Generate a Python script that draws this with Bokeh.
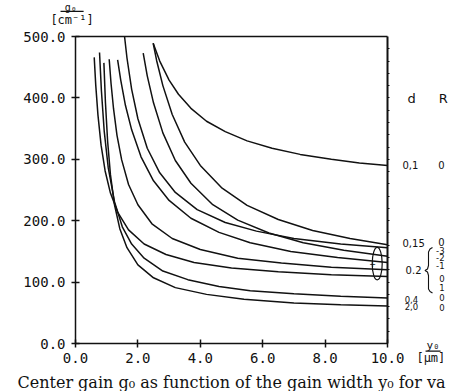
from bokeh.plotting import figure
from bokeh.models import (Range1d, FixedTicker, NumeralTickFormatter, Label, LinearAxis)
from bokeh.embed import file_html
from bokeh.resources import INLINE

# ---- data (y0 in um, g0 in 1/cm) ----
c01_x = [2.49, 2.7, 3.0, 3.3, 3.7, 4.2, 4.8, 5.5, 6.3, 7.2, 8.2, 9.1, 10.0]
c01_y = [489, 460, 429, 406, 383, 362, 345, 330, 318, 308, 300, 294, 290]

c015_x = [2.49, 2.6, 2.8, 3.1, 3.5, 4.0, 4.7, 5.5, 6.5, 7.6, 8.8, 10.0]
c015_y = [489, 461, 420, 373, 328, 290, 253, 225, 202, 184, 171, 161]

c02m3_x = [1.55, 1.65, 1.8, 2.0, 2.3, 2.7, 3.2, 3.9, 4.8, 5.8, 7.0, 8.5, 10.0]
c02m3_y = [510, 465, 414, 366, 318, 278, 246, 218, 197, 183, 171, 162, 156]

c02m2_x = [2.17, 2.3, 2.5, 2.8, 3.2, 3.7, 4.4, 5.2, 6.2, 7.3, 8.6, 10.0]
c02m2_y = [473, 436, 392, 343, 298, 261, 226, 201, 180, 164, 152, 142]

c02m1_x = [1.35, 1.45, 1.6, 1.8, 2.1, 2.5, 3.0, 3.7, 4.6, 5.6, 6.9, 8.4, 10.0]
c02m1_y = [462, 429, 388, 348, 304, 265, 233, 204, 181, 164, 150, 140, 132]

c02r0_x = [1.08, 1.14, 1.22, 1.33, 1.48, 1.7, 2.0, 2.45, 3.1, 4.0, 5.2, 6.6, 8.2, 10.0]
c02r0_y = [463, 423, 382, 339, 299, 259, 226, 195, 171, 153, 139, 131, 124, 120]

c02p1_x = [0.6, 0.65, 0.72, 0.82, 0.95, 1.12, 1.35, 1.7, 2.2, 2.9, 3.8, 5.0, 6.5, 8.2, 10.0]
c02p1_y = [466, 420, 372, 323, 281, 245, 214, 185, 162, 145, 132, 123, 117, 112, 109]

c04_x = [0.77, 0.83, 0.92, 1.05, 1.25, 1.5, 1.8, 2.2, 2.8, 3.6, 4.6, 5.6, 7.0, 8.5, 10.0]
c04_y = [474, 412, 346, 286, 231, 190, 162, 139, 118, 104, 93, 86, 81, 77, 74]

c20_x = [0.91, 0.96, 1.03, 1.12, 1.25, 1.42, 1.65, 2.0, 2.5, 3.2, 4.2, 5.4, 7.0, 8.5, 10.0]
c20_y = [457, 392, 329, 275, 226, 187, 156, 128, 107, 91, 80, 72, 66, 63, 61]

x_ticks = [0, 2, 4, 6, 8, 10]
y_ticks = [0, 100, 200, 300, 400, 500]

# right-hand parameter table: d and R
d_labels = ["0,1", "0,15", "0.2", "0,4", "2,0"]
d_label_y = [290, 164, 119, 72, 61]
r_labels = ["0", "0", "-3", "-2", "-1", "0", "1", "0", "0"]
r_label_y = [290, 165, 151.5, 139.6, 127, 105.4, 91.7, 75.4, 59.1]

INK = "#111111"

# frame covers the whole canvas; axes are pinned at x=0 / y=0 with fixed_location
p = figure(width=474, height=391,
           x_range=Range1d(-75 / 31.2, (474 - 75) / 31.2),
           y_range=Range1d((343 - 391) / 0.614, 343 / 0.614),
           x_axis_location=None, y_axis_location=None,
           min_border=0, min_border_left=0, min_border_right=0,
           min_border_top=0, min_border_bottom=0,
           output_backend="svg", toolbar_location=None)
p.xgrid.visible = False
p.ygrid.visible = False
p.background_fill_color = "white"
p.border_fill_color = "white"
p.outline_line_color = None

def style_axis(ax):
    ax.major_tick_in = 4
    ax.major_tick_out = 4
    ax.minor_tick_line_color = None
    ax.axis_line_width = 1.5
    ax.axis_line_color = INK
    ax.major_tick_line_color = INK
    ax.major_tick_line_width = 1.5
    ax.major_label_text_font = "DejaVu Sans Mono"
    ax.major_label_text_font_size = "14px"
    ax.major_label_text_color = INK

xax = LinearAxis(fixed_location=0, bounds=(0, 10), ticker=FixedTicker(ticks=x_ticks),
                 formatter=NumeralTickFormatter(format="0.0"))
style_axis(xax)
xax.major_label_standoff = 5
p.add_layout(xax, "below")

yax = LinearAxis(fixed_location=0, bounds=(0, 500), ticker=FixedTicker(ticks=y_ticks),
                 formatter=NumeralTickFormatter(format="0.0"))
style_axis(yax)
yax.major_label_standoff = 6
p.add_layout(yax, "left")

# closing frame lines (top and right)
top = LinearAxis(fixed_location=500, bounds=(0, 10), ticker=FixedTicker(ticks=[]))
top.axis_line_color = INK
top.axis_line_width = 1.5
top.major_label_text_color = None
p.add_layout(top, "above")

right = LinearAxis(fixed_location=10, bounds=(0, 500),
                   ticker=FixedTicker(ticks=[], minor_ticks=list(range(20, 500, 20))))
right.axis_line_color = INK
right.axis_line_width = 2
right.minor_tick_line_color = INK
right.minor_tick_in = 0
right.minor_tick_out = 2
right.major_label_text_color = None
p.add_layout(right, "right")

for xs, ys in [(c01_x, c01_y), (c015_x, c015_y), (c02m3_x, c02m3_y), (c02m2_x, c02m2_y),
               (c02m1_x, c02m1_y), (c02r0_x, c02r0_y), (c02p1_x, c02p1_y),
               (c04_x, c04_y), (c20_x, c20_y)]:
    v = [(a, b) for a, b in zip(xs, ys) if b <= 500]
    if len(v) < len(xs):
        # clip the part above the top frame line
        i = len(xs) - len(v)
        x0, y0, x1, y1 = xs[i - 1], ys[i - 1], xs[i], ys[i]
        xc = x0 + (500 - y0) * (x1 - x0) / (y1 - y0)
        v = [(xc, 500)] + v
    p.line([a for a, _ in v], [b for _, b in v], line_color=INK, line_width=1.5)

p.ellipse(x=[9.67], y=[130], width=[0.32], height=[53], fill_color=None,
          line_color=INK, line_width=1.2)

def lab(x, y, t, size="10px", font="DejaVu Sans", align="center", baseline="middle",
        style="normal"):
    p.add_layout(Label(x=x, y=y, text=t, text_font=font, text_font_size=size,
                       text_color=INK, text_align=align, text_baseline=baseline,
                       text_font_style=style))

lab(9.52, 130, "+", size="8px")

# right-hand table
lab(10.77, 399, "d", size="13px")
lab(11.79, 399, "R", size="13px")
d_x = [10.48, 10.48, 10.58, 10.55, 10.55]
d_size = ["10px", "10px", "10px", "8.5px", "8.5px"]
for t, yv, xv, sz in zip(d_labels, d_label_y, d_x, d_size):
    lab(xv, yv, t, size=sz, align="left")
r_size = ["10px", "10px", "8.5px", "8.5px", "8.5px", "8.5px", "8.5px", "8.5px", "8.5px"]
for t, yv, sz in zip(r_labels, r_label_y, r_size):
    lab(11.83, yv, t, size=sz, align="right")

# brace for d = 0.2
brace_px = [(432, 247), (429.5, 248.5), (428, 251.5), (428, 265), (427, 268.5), (424.5, 270),
            (427, 271.5), (428, 275), (428, 288.5), (429.5, 291), (432, 292.5)]
p.line([(a - 75) / 31.2 for a, _ in brace_px], [(343 - b) / 0.614 for _, b in brace_px],
       line_color=INK, line_width=1.1)

# axis titles (fractions)
lab(-0.15, 548, "g\u2080", size="10px", font="DejaVu Sans Mono", baseline="alphabetic")
p.segment(x0=[-0.48], y0=[541], x1=[0.26], y1=[541], line_color=INK, line_width=1.2)
lab(-0.11, 527, "[cm\u207b\u00b9]", size="12px", font="DejaVu Sans Mono")
lab(11.46, -3.5, "y\u2080", size="11px", font="DejaVu Sans Mono")
p.segment(x0=[11.22], y0=[-12.5], x1=[11.70], y1=[-12.5], line_color=INK, line_width=1.2)
lab(11.39, -23.6, "[\u00b5m]", size="12px", font="DejaVu Sans Mono")

# caption
lab(-1.86, -63.5, "Center gain g\u2080 as function of the gain width y\u2080 for va",
    size="16px", font="DejaVu Serif", align="left", baseline="alphabetic")

open("out.html", "w").write(file_html(p, INLINE))
